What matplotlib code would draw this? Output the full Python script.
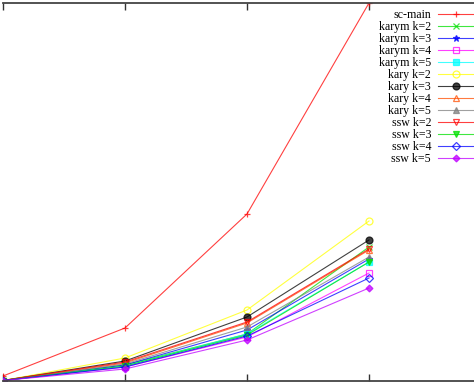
import numpy as np
import matplotlib.pyplot as plt

# x positions (run index) and per-series values
x = [0, 1, 2, 3]

labels = ["sc-main",
          "karym k=2", "karym k=3", "karym k=4", "karym k=5",
          "kary k=2", "kary k=3", "kary k=4", "kary k=5",
          "ssw k=2", "ssw k=3", "ssw k=4", "ssw k=5"]

sc_main = [5, 53, 167, 378]
karym_k2 = [0.5, 16, 47, 134]
karym_k3 = [0.5, 16, 51, 122]
karym_k4 = [0.5, 14, 44, 108]
karym_k5 = [0.5, 15, 47, 119]
kary_k2 = [0.5, 23, 71, 160]
kary_k3 = [0.5, 20, 64, 141]
kary_k4 = [0.5, 18, 58, 131]
kary_k5 = [0.5, 17, 54, 124]
ssw_k2 = [0.5, 19, 59, 132]
ssw_k3 = [0.5, 15, 46, 119]
ssw_k4 = [0.5, 14, 45, 103]
ssw_k5 = [0.5, 12, 41, 93]

series = [sc_main, karym_k2, karym_k3, karym_k4, karym_k5,
          kary_k2, kary_k3, kary_k4, kary_k5,
          ssw_k2, ssw_k3, ssw_k4, ssw_k5]

# gnuplot-like line colours and point types
colors = ["#ff0000", "#00e000", "#0000ff", "#ff00ff", "#00ffff",
          "#ffff00", "#000000", "#ff4d00", "#808080",
          "#ff0000", "#00e000", "#0000ff", "#c000ff"]
markers = ["+", "x", "*", "s", "s", "o", "o", "^", "^", "v", "v", "D", "D"]
msizes = [5, 4.5, 5, 4.5, 4.5, 5, 5, 4.5, 4, 4.5, 4, 4, 3.5]
filled = [True, True, True, False, True, False, True, False, True,
          False, True, False, True]

plt.rcParams['font.family'] = ['Liberation Serif', 'DejaVu Serif']

fig = plt.figure(figsize=(4.74, 3.84), dpi=100)
ax = fig.add_axes([3 / 474, 3 / 384, 476 / 474, 378 / 384])

for vals, lab, c, m, s, f in zip(series, labels, colors, markers, msizes, filled):
    ax.plot(x, vals, color=c, lw=0.8, alpha=0.75, marker=m, ms=s,
            mfc=c if f else 'none', mec=c, mew=0.9, label=lab)

ax.set_xlim(0, 476 / 122)
ax.set_ylim(0, 378)
ax.set_xticks(x)
ax.set_yticks([])
ax.tick_params(axis='x', direction='in', length=5, width=1, color='#333333',
               top=True, labelbottom=False)
ax.spines['left'].set_visible(False)
ax.spines['right'].set_visible(False)
for s in ('top', 'bottom'):
    ax.spines[s].set_color('#444444')
    ax.spines[s].set_linewidth(1.3)

leg = fig.legend(loc='upper right', bbox_to_anchor=(1.0, 0.976),
                 bbox_transform=fig.transFigure, frameon=False,
                 markerfirst=False, fontsize=8.6, handlelength=3.0,
                 handletextpad=0.6, labelspacing=0.0, borderpad=0,
                 borderaxespad=0)

fig.savefig("out.png", dpi=100)
